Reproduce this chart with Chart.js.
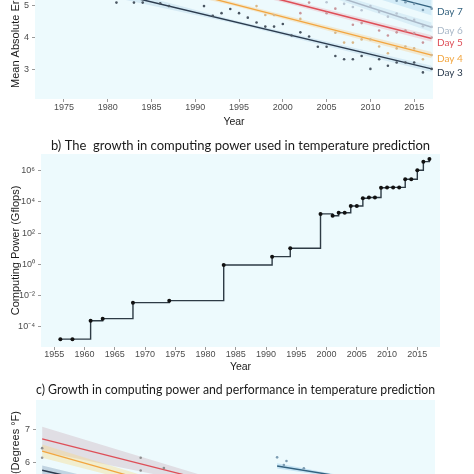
<!DOCTYPE html>
<html>
<head>
<meta charset="utf-8">
<script src="https://cdn.jsdelivr.net/npm/chart.js@4.4.1/dist/chart.umd.min.js"></script>
<style>
  html, body { margin: 0; padding: 0; background: #fff; }
  body { position: relative; width: 474px; height: 474px; overflow: hidden; }
  canvas { position: absolute; left: 0; }
  #chartA { top: -130px; }
  #chartB { top: 130px; }
  #chartC { top: 380px; }
</style>
</head>
<body>
<canvas id="chartA" width="474" height="260"></canvas>
<canvas id="chartB" width="474" height="250"></canvas>
<canvas id="chartC" width="474" height="240"></canvas>
<script>
// ---- data ----
const DAYS = ['Day 3', 'Day 4', 'Day 5', 'Day 6', 'Day 7'];
const DAY_COLORS = ['#2b3b4e', '#f2a640', '#de4f58', '#a9b8c8', '#33627f'];
const DAY_POINT_COLORS = ['#4a5662', '#d9b889', '#c9959a', '#b9c6d3', '#7d9db3'];
const DAY_BAND_COLORS = ['rgba(120,170,210,0.2)', 'rgba(250,190,100,0.28)', 'rgba(235,140,150,0.25)',
                         'rgba(140,190,225,0.2)', 'rgba(130,190,230,0.25)'];

// a) mean absolute error per year
const A_YEAR_TICKS = [1975, 1980, 1985, 1990, 1995, 2000, 2005, 2010, 2015];
const A_MAE_TICKS = [3, 4, 5, 6, 7];

const A_D3_YEARS = [1981, 1983, 1984, 1986, 1987, 1991, 1992, 1993, 1994, 1995, 1996, 1997, 1998, 1999, 2000,
                    2001, 2002, 2003, 2004, 2005, 2006, 2007, 2008, 2009, 2010, 2011, 2012, 2013, 2014, 2015, 2016, 2017];
const A_D3_MAE = [5.09, 5.09, 5.09, 5.07, 4.98, 4.98, 4.68, 4.76, 4.89, 4.76, 4.62, 4.47, 4.34, 4.34, 4.42,
                  4.06, 4.16, 4.03, 3.71, 3.71, 3.42, 3.32, 3.32, 3.42, 3.02, 3.32, 3.12, 3.22, 3.22, 3.22, 2.91, 3.02];
const A_D4_YEARS = [1997, 1998, 1999, 2002, 2006, 2007, 2008, 2009, 2010, 2011, 2012, 2013, 2014, 2015, 2016, 2017];
const A_D4_MAE = [4.98, 4.70, 4.70, 4.58, 4.15, 3.84, 3.84, 3.94, 3.94, 3.72, 3.51, 3.66, 3.72, 3.66, 3.32, 3.45];
const A_D5_YEARS = [2002, 2003, 2005, 2006, 2008, 2009, 2011, 2012, 2013, 2014, 2015, 2016, 2017];
const A_D5_MAE = [4.76, 5.09, 4.76, 4.90, 4.40, 4.45, 4.22, 4.06, 4.16, 4.22, 4.13, 3.84, 4.00];
const A_D6_YEARS = [2005, 2007, 2008, 2009, 2010, 2011, 2012, 2013, 2014, 2015, 2016, 2017];
const A_D6_MAE = [5.10, 5.05, 4.95, 4.85, 4.98, 4.80, 4.65, 4.75, 4.60, 4.55, 4.35, 4.33];
const A_D7_YEARS = [2013, 2014, 2015, 2016, 2017];
const A_D7_MAE = [5.15, 5.10, 5.05, 4.86, 4.90];

// regression lines and confidence bands (start, middle, end)
const A_LINE_YEARS = [[1972, 2017], [1972, 2017], [1972, 2017], [1995, 2017], [1998, 2017]];
const A_LINE_MAE = [[5.96, 3.02], [6.62, 3.45], [7.12, 3.97], [6.26, 4.32], [6.27, 4.94]];
const A_BAND_YEARS = [[1972, 1994.5, 2017], [1972, 1994.5, 2017], [1972, 1994.5, 2017], [1995, 2006, 2017], [1998, 2007.5, 2017]];
const A_BAND_LOW = [[5.76, 4.44, 2.92], [6.42, 4.98, 3.35], [6.90, 5.49, 3.87], [5.96, 5.21, 4.17], [5.92, 5.50, 4.69]];
const A_BAND_HIGH = [[6.16, 4.54, 3.12], [6.82, 5.09, 3.55], [7.34, 5.60, 4.07], [6.56, 5.37, 4.47], [6.62, 5.71, 5.19]];

// b) computing power (Gflops)
const B_YEAR_TICKS = [1955, 1960, 1965, 1970, 1975, 1980, 1985, 1990, 1995, 2000, 2005, 2010, 2015];
const B_POWER_TICKS = [1e-4, 1e-2, 1, 1e2, 1e4, 1e6];
const B_YEARS = [1956, 1958, 1961, 1963, 1968, 1974, 1983, 1991, 1994, 1999, 2001, 2002, 2003, 2004, 2005,
                 2006, 2007, 2008, 2009, 2010, 2011, 2012, 2013, 2014, 2015, 2016, 2017];
const B_GFLOPS = [1.6e-5, 1.6e-5, 2.4e-4, 3.3e-4, 3.5e-3, 4.7e-3, 0.9, 3.1, 10.6, 1.7e3, 1.3e3, 2.0e3, 2.0e3, 5.4e3, 5.4e3,
                  1.7e4, 1.9e4, 1.9e4, 8.1e4, 8.5e4, 8.5e4, 8.5e4, 2.8e5, 2.8e5, 1.07e6, 3.8e6, 5.6e6];

// c) error against computing power
const C_POWER_TICKS = [1e-2, 1, 1e2, 1e4, 1e6];
const C_MAE_TICKS = [3, 4, 5, 6, 7];
const C_D4_POWER = [4.7e-3];
const C_D4_MAE = [6.16];
const C_D5_POWER = [4.7e-3, 0.9, 0.9, 3.1];
const C_D5_MAE = [6.45, 6.16, 5.77, 5.85];
const C_D7_POWER = [1.3e3, 1.86e3, 2.14e3, 5.4e3];
const C_D7_MAE = [6.17, 5.94, 6.06, 5.84];
const C_LINE_DAYS = [0, 1, 2, 4];
const C_LINE_POWER = [[4.7e-3, 5.6e6], [4.7e-3, 5.6e6], [4.7e-3, 5.6e6], [1.3e3, 5.6e6]];
const C_LINE_MAE = [[5.78, 3.06], [6.36, 3.0], [6.73, 3.72], [5.91, 5.13]];
const C_BAND_POWER = [[4.7e-3, 50, 5.6e6], [4.7e-3, 50, 5.6e6], [4.7e-3, 50, 5.6e6], [1.3e3, 3e4, 5.6e6]];
const C_BAND_LOW = [[5.64, 4.50, 2.90], [6.16, 4.80, 2.80], [6.35, 5.28, 3.50], [5.83, 5.57, 5.00]];
const C_BAND_HIGH = [[5.92, 4.64, 3.22], [6.56, 4.94, 3.20], [7.10, 5.50, 3.95], [5.99, 5.65, 5.26]];
const C_BAND_COLORS = ['rgba(110,140,175,0.35)', 'rgba(250,215,120,0.35)', 'rgba(200,170,180,0.35)', 'rgba(130,190,230,0.35)'];

// ---- styling ----
const TICK_FONT = "'Liberation Sans', Arial, sans-serif";
const TITLE_FONT = "Lato, 'Open Sans', sans-serif";
const PANEL_BG = '#edfafd';
const SUP = { '-': '⁻', '0': '⁰', '1': '¹', '2': '²', '3': '³', '4': '⁴', '5': '⁵', '6': '⁶', '7': '⁷', '8': '⁸', '9': '⁹' };
const pow10 = v => '10' + String(Math.round(Math.log10(v))).split('').map(c => SUP[c]).join('');

const panelBg = {
  id: 'panelBg',
  beforeDraw(c) {
    const a = c.chartArea;
    c.ctx.save();
    c.ctx.fillStyle = PANEL_BG;
    c.ctx.fillRect(a.left, a.top, a.right - a.left, a.bottom - a.top);
    c.ctx.restore();
  }
};

// text labels at the end of each regression line (panel a)
const endLabels = {
  id: 'endLabels',
  afterDraw(c) {
    const ctx = c.ctx;
    ctx.save();
    ctx.font = '10px ' + TITLE_FONT;
    ctx.textAlign = 'left';
    ctx.textBaseline = 'middle';
    c.data.datasets.forEach((ds, i) => {
      if (!ds.endLabel) return;
      const els = c.getDatasetMeta(i).data;
      const p = els[els.length - 1];
      ctx.fillStyle = ds.borderColor;
      ctx.fillText(ds.endLabel, c.chartArea.right + 4, p.y + 4);
    });
    ctx.restore();
  }
};

const pts = (xs, ys) => xs.map((x, i) => ({ x, y: ys[i] }));

function bandSets(xs, lo, hi, color) {
  return [
    { data: pts(xs, lo), borderWidth: 0, pointRadius: 0, fill: false, order: 3 },
    { data: pts(xs, hi), borderWidth: 0, pointRadius: 0, fill: '-1', backgroundColor: color, order: 3 }
  ];
}
function lineSet(xs, ys, color, label) {
  return { data: pts(xs, ys), borderColor: color, borderWidth: 1.4, pointRadius: 0, fill: false, order: 2, endLabel: label };
}
function pointSet(xs, ys, color) {
  return { data: pts(xs, ys), showLine: false, pointRadius: 1.3, pointBorderWidth: 0, pointBackgroundColor: color, order: 1 };
}

function axis(opts) {
  return {
    type: opts.type || 'linear',
    min: opts.min, max: opts.max,
    afterBuildTicks: s => { s.ticks = opts.ticks.map(v => ({ value: v })); },
    afterFit: s => { if (opts.width) s.width = opts.width; if (opts.height) s.height = opts.height; },
    grid: { drawOnChartArea: false, drawTicks: true, tickLength: 3, tickColor: '#9a9a9a' },
    border: { display: false },
    ticks: {
      color: '#4d4d4d', font: { family: TICK_FONT, size: 9, lineHeight: 1 },
      padding: opts.padding, maxRotation: 0, autoSkip: false,
      callback: opts.fmt || (v => String(v))
    },
    title: { display: true, text: opts.title, color: '#1a1a1a', font: { family: TICK_FONT, size: opts.titleSize || 11 }, padding: opts.titlePad }
  };
}

function baseOptions(padding, scales, title) {
  return {
    responsive: false, animation: false, devicePixelRatio: 1, events: [],
    layout: { padding },
    plugins: {
      legend: { display: false }, tooltip: { enabled: false },
      title: title ? { display: true, text: title.text, color: '#1a1a1a', fullSize: false,
                       font: { family: TITLE_FONT, size: 13, weight: 'normal' }, padding: title.padding } : { display: false }
    },
    scales
  };
}

// ---- a) ----
const aDatasets = [];
const aYears = [A_D3_YEARS, A_D4_YEARS, A_D5_YEARS, A_D6_YEARS, A_D7_YEARS];
const aMae = [A_D3_MAE, A_D4_MAE, A_D5_MAE, A_D6_MAE, A_D7_MAE];
DAYS.forEach((d, i) => {
  aDatasets.push(...bandSets(A_BAND_YEARS[i], A_BAND_LOW[i], A_BAND_HIGH[i], DAY_BAND_COLORS[i]));
  aDatasets.push(lineSet(A_LINE_YEARS[i], A_LINE_MAE[i], DAY_COLORS[i], d));
  aDatasets.push(pointSet(aYears[i], aMae[i], DAY_POINT_COLORS[i]));
});
new Chart(document.getElementById('chartA'), {
  type: 'line',
  data: { datasets: aDatasets },
  options: baseOptions({ left: 0, top: 40, right: 41, bottom: 0 }, {
    x: axis({ min: 1971.7, max: 2017.15, ticks: A_YEAR_TICKS, height: 31, padding: 1, title: 'Year', titleSize: 10.5, titlePad: { top: 0, bottom: 1.7 } }),
    y: axis({ min: 2.08, max: 7.98, ticks: A_MAE_TICKS, width: 35, padding: 3, title: 'Mean Absolute Error (Degrees °F)', titlePad: { top: 9.4, bottom: 0 } })
  }),
  plugins: [panelBg, endLabels]
});

// ---- b) ----
new Chart(document.getElementById('chartB'), {
  type: 'line',
  data: {
    datasets: [{
      data: pts(B_YEARS, B_GFLOPS), stepped: 'before', borderColor: '#2e3b45', borderWidth: 1.4,
      pointRadius: 2, pointBorderWidth: 0, pointBackgroundColor: '#111', fill: false
    }]
  },
  options: baseOptions({ left: 0, top: 0, right: 34, bottom: 0 }, {
    x: axis({ min: 1952.8, max: 2018.75, ticks: B_YEAR_TICKS, height: 33, padding: 0, title: 'Year', titleSize: 10.5, titlePad: { top: 0, bottom: 6.4 } }),
    y: axis({ type: 'logarithmic', min: Math.pow(10, -5.3), max: Math.pow(10, 7.07), ticks: B_POWER_TICKS, fmt: pow10, width: 41, padding: 3,
              title: 'Computing Power (Gflops)', titlePad: { top: 9.4, bottom: 0 } })
  }, { text: 'b) The  growth in computing power used in temperature prediction', padding: { top: 8, bottom: 0.4 } }),
  plugins: [panelBg]
});

// ---- c) ----
const cDatasets = [];
C_LINE_DAYS.forEach((d, i) => {
  cDatasets.push(...bandSets(C_BAND_POWER[i], C_BAND_LOW[i], C_BAND_HIGH[i], C_BAND_COLORS[i]));
  cDatasets.push(lineSet(C_LINE_POWER[i], C_LINE_MAE[i], DAY_COLORS[d]));
});
cDatasets.push(pointSet(C_D4_POWER, C_D4_MAE, '#9a9a9a'));
cDatasets.push(pointSet(C_D5_POWER, C_D5_MAE, '#8e8e8e'));
cDatasets.push(pointSet(C_D7_POWER, C_D7_MAE, '#7d9db3'));
new Chart(document.getElementById('chartC'), {
  type: 'line',
  data: { datasets: cDatasets },
  options: baseOptions({ left: 0, top: 0, right: 39, bottom: 0 }, {
    x: axis({ type: 'logarithmic', min: Math.pow(10, -2.47), max: Math.pow(10, 6.77), ticks: C_POWER_TICKS, fmt: pow10, height: 31, padding: 1,
              title: 'Computing Power (Gflops)', titleSize: 10.5, titlePad: { top: 0, bottom: 1.7 } }),
    y: axis({ min: 2.18, max: 7.909, ticks: C_MAE_TICKS, width: 36, padding: 3, title: 'Mean Absolute Error (Degrees °F)', titlePad: { top: 9.4, bottom: 0 } })
  }, { text: 'c) Growth in computing power and performance in temperature prediction', padding: { top: 2.2, bottom: 2.2 } }),
  plugins: [panelBg]
});
</script>
</body>
</html>
